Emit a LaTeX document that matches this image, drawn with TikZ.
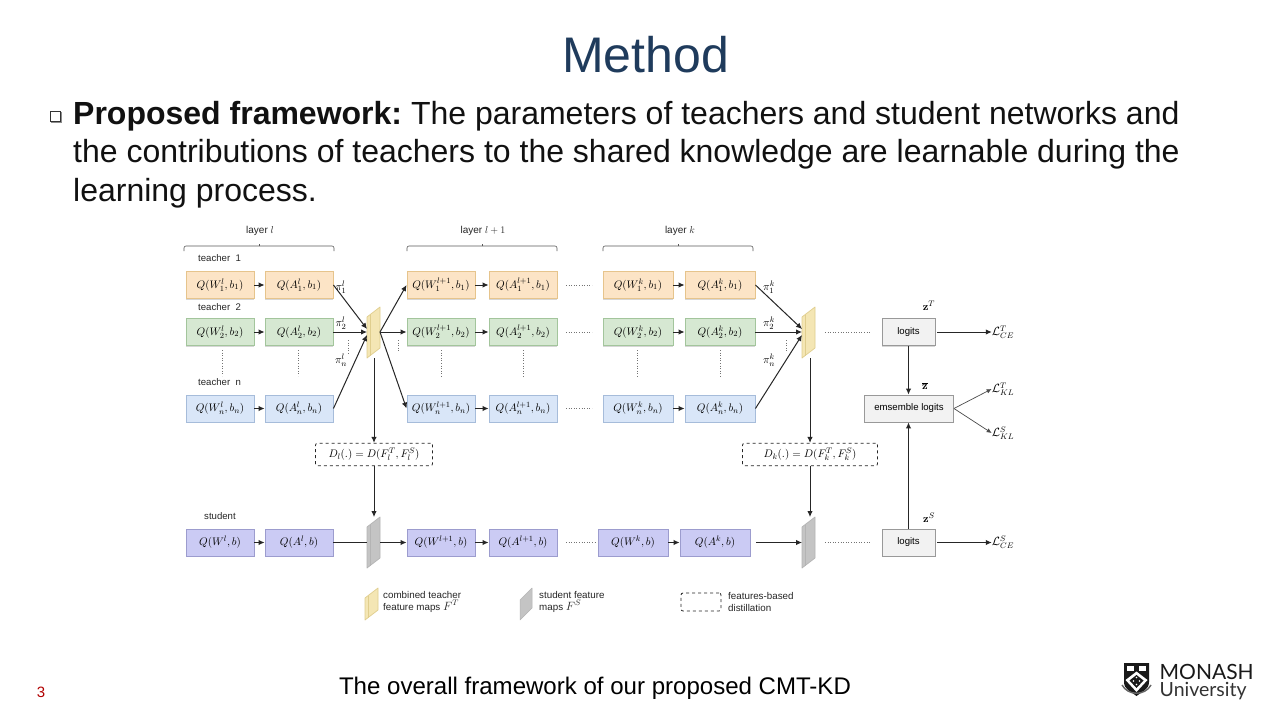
\documentclass[tikz,border=0pt]{standalone}
\usepackage[no-math]{fontspec}
\usepackage{amsmath}
\setmainfont{Liberation Sans}
\newfontfamily\logofont{Lato}
\usetikzlibrary{shadows,arrows.meta}
\definecolor{titlec}{HTML}{1F3B5C}
\definecolor{bodyc}{HTML}{111111}
\definecolor{ofill}{HTML}{FCE4C6}\definecolor{oline}{HTML}{E6C48C}
\definecolor{gfill}{HTML}{D6E8D2}\definecolor{gline}{HTML}{A3C59C}
\definecolor{bfill}{HTML}{D9E6F8}\definecolor{bline}{HTML}{A6BCDA}
\definecolor{vfill}{HTML}{CBCBF4}\definecolor{vline}{HTML}{9C9CCE}
\tikzset{
  qbox/.style={minimum height=27pt,inner sep=0pt,line width=.9pt,
    drop shadow={shadow xshift=.3pt,shadow yshift=-1.1pt,fill=black!40,opacity=.4},
    font=\fontsize{11}{12}\selectfont},
  orangeb/.style={qbox,fill=ofill,draw=oline,minimum width=68pt},
  greenb/.style={qbox,fill=gfill,draw=gline,minimum width=68pt},
  blueb/.style={qbox,fill=bfill,draw=bline,minimum width=68pt},
  violetb/.style={qbox,fill=vfill,draw=vline,minimum width=68pt},
  grayb/.style={qbox,fill=black!5,draw=black!40,font=\fontsize{9.6}{11}\selectfont},
  distb/.style={draw=black!85,dashed,rounded corners=2pt,inner sep=0pt,line width=.8pt,minimum height=22.5pt,font=\fontsize{11}{12}\selectfont},
  conn/.style={draw=black!85,line width=1pt,-{Latex[length=6pt,width=5.5pt]}},
  plainconn/.style={draw=black!85,line width=1pt},
  thinconn/.style={draw=black!70,line width=.7pt,-{Latex[length=5pt,width=4.5pt]}},
  dots/.style={draw=black!55,line width=.7pt,dash pattern=on 1pt off 1.6pt},
  lab/.style={font=\fontsize{9.6}{11}\selectfont,text=black!85,inner sep=0pt},
  leg/.style={font=\fontsize{9.8}{12}\selectfont,text=black!85,inner sep=0pt,align=left,anchor=west},
  brk/.style={draw=black!65,line width=.6pt,rounded corners=2pt},
  body/.style={font=\fontsize{32}{38.6}\selectfont,text=bodyc,inner sep=0pt,anchor=west},
  mlab/.style={inner sep=0pt,font=\fontsize{11}{12}\selectfont},
  llab/.style={inner sep=0pt,font=\fontsize{11.5}{12}\selectfont},
}
\newcommand{\fmapdraw}[5]{% x, y top, fill, line, height
  \draw[fill=#3,draw=#4,line width=.7pt,line join=round]
    (#1,#2+10) -- (#1+13,#2) -- (#1+13,#2+#5-10) -- (#1,#2+#5) -- cycle;
  \draw[draw=#4,line width=.6pt] (#1+3,#2+8) -- (#1+3,#2+#5-2);
}
\begin{document}
\begin{tikzpicture}[x=1pt,y=-1pt]
\useasboundingbox (0,0) rectangle (1280,720);
\fill[white] (0,0) rectangle (1280,720);
\definecolor{fmy}{HTML}{F4E6B4}\definecolor{fmyl}{HTML}{E0CE8E}
\definecolor{fmg}{HTML}{C4C4C4}\definecolor{fmgl}{HTML}{B4B4B4}

% title and text
\node[font=\fontsize{50}{50}\selectfont,text=titlec,inner sep=0pt] (title) at (645.5,55) {Method};
\draw[black!80,line width=.8pt,fill=white] (50,111) rectangle (60,121);
\draw[black!45,line width=1pt] (61,112) -- (61,122) -- (51,122);
\node[body] (l1) at (73,116) {\textbf{Proposed framework:}\hspace{-3pt} The parameters of teachers and student networks and};
\node[body] (l2) at (73,154) {the contributions of teachers to the shared knowledge are learnable during the};
\node[body] (l3) at (73,193) {learning process.};

% layer brackets
\foreach \a/\b/\m in {184/334/259,407/557/482,603/753/678}{
  \draw[brk] (\a,251) -- (\a,246) -- (\b,246) -- (\b,251);
  \draw[draw=black!65,line width=.6pt] (\m,246) -- (\m,243.5);
}
\node[lab,font=\fontsize{10}{11}\selectfont] (ll1) at (260,231) {layer $l$};
\node[lab,font=\fontsize{10}{11}\selectfont] (ll2) at (483,231) {layer $l+1$};
\node[lab,font=\fontsize{10}{11}\selectfont] (ll3) at (680,231) {layer $k$};

\node[lab,anchor=west] (t1) at (198,258) {teacher\ \ 1};
\node[lab,anchor=west] (t2) at (198,307) {teacher\ \ 2};
\node[lab,anchor=west] (tn) at (198,382) {teacher\ \ n};
\node[lab,anchor=west] (st) at (204,516) {student};

% feature maps
\fmapdraw{367}{307}{fmy}{fmyl}{51}
\fmapdraw{802}{307}{fmy}{fmyl}{51}
\fmapdraw{367}{517}{fmg}{fmgl}{51}
\fmapdraw{802}{517}{fmg}{fmgl}{51}
\coordinate (fl1) at (367,329); \coordinate (fl2) at (367,332); \coordinate (fl3) at (367,335);
\coordinate (flo) at (380,332); \coordinate (flb) at (374,358);
\coordinate (fk1) at (802,329); \coordinate (fk2) at (802,332); \coordinate (fk3) at (802,335);
\coordinate (fkb) at (810,358);
\coordinate (gl) at (367,542.5); \coordinate (glo) at (380,542.5); \coordinate (glt) at (374,517);
\coordinate (gk) at (802,542.5); \coordinate (gkt) at (810,517);

% teacher boxes
\node[orangeb] (w11) at (220,285) {$Q(W_1^l,b_1)$};
\node[orangeb] (a11) at (299,285) {$Q(A_1^l,b_1)$};
\node[orangeb] (w12) at (441,285) {$Q(W_1^{l+1},b_1)$};
\node[orangeb] (a12) at (523,285) {$Q(A_1^{l+1},b_1)$};
\node[orangeb,minimum width=70pt] (w13) at (638,285) {$Q(W_1^{k},b_1)$};
\node[orangeb,minimum width=70pt] (a13) at (720,285) {$Q(A_1^{k},b_1)$};
\node[greenb] (w21) at (220,332) {$Q(W_2^l,b_2)$};
\node[greenb] (a21) at (299,332) {$Q(A_2^l,b_2)$};
\node[greenb] (w22) at (441,332) {$Q(W_2^{l+1},b_2)$};
\node[greenb] (a22) at (523,332) {$Q(A_2^{l+1},b_2)$};
\node[greenb,minimum width=70pt] (w23) at (638,332) {$Q(W_2^{k},b_2)$};
\node[greenb,minimum width=70pt] (a23) at (720,332) {$Q(A_2^{k},b_2)$};
\node[blueb] (w31) at (220,408.5) {$Q(W_n^l,b_n)$};
\node[blueb] (a31) at (299,408.5) {$Q(A_n^l,b_n)$};
\node[blueb] (w32) at (441,408.5) {$Q(W_n^{l+1},b_n)$};
\node[blueb] (a32) at (523,408.5) {$Q(A_n^{l+1},b_n)$};
\node[blueb,minimum width=70pt] (w33) at (638,408.5) {$Q(W_n^{k},b_n)$};
\node[blueb,minimum width=70pt] (a33) at (720,408.5) {$Q(A_n^{k},b_n)$};
% student boxes
\node[violetb] (sw1) at (220,542.5) {$Q(W^l,b)$};
\node[violetb] (sa1) at (299,542.5) {$Q(A^l,b)$};
\node[violetb] (sw2) at (441,542.5) {$Q(W^{l+1},b)$};
\node[violetb] (sa2) at (523,542.5) {$Q(A^{l+1},b)$};
\node[violetb,minimum width=70pt] (sw3) at (633,542.5) {$Q(W^{k},b)$};
\node[violetb,minimum width=70pt] (sa3) at (715,542.5) {$Q(A^{k},b)$};
% logits
\node[grayb,minimum width=53pt] (logT) at (908.5,332) {logits};
\node[grayb,minimum width=89pt] (ens) at (909,408.5) {emsemble logits};
\node[grayb,minimum width=53pt] (logS) at (908.5,542.5) {logits};
% distillation
\node[distb,minimum width=117pt] (dl) at (374,454.5) {$D_l(.)=D(F_l^T,F_l^S)$};
\node[distb,minimum width=135pt] (dk) at (810,454.5) {$D_k(.)=D(F_k^T,F_k^S)$};

% inner arrows
\foreach \r in {1,2,3}{
  \draw[conn] (w\r1) -- (a\r1);
  \draw[conn] (w\r2) -- (a\r2);
  \draw[conn] (w\r3) -- (a\r3);
}
\draw[conn] (sw1) -- (sa1);
\draw[conn] (sw2) -- (sa2);
\draw[conn] (sw3) -- (sa3);
% to and from maps
\draw[conn] (a11.east) -- (fl1);
\draw[conn] (a21.east) -- (fl2);
\draw[conn] (a31.east) -- (fl3);
\draw[conn] (flo) -- (w12.west);
\draw[conn] (flo) -- (w22.west);
\draw[conn] (flo) -- (w32.west);
\draw[conn] (a13.east) -- (fk1);
\draw[conn] (a23.east) -- (fk2);
\draw[conn] (a33.east) -- (fk3);
\draw[conn] (flb) -- (dl.north);
\draw[conn] (dl.south) -- (glt);
\draw[conn] (fkb) -- (dk.north);
\draw[conn] (dk.south) -- (gkt);
\draw[plainconn] (sa1.east) -- (gl);
\draw[conn] (glo) -- (sw2.west);
\draw[conn] ([xshift=6pt]sa3.east) -- (gk);
% logits arrows
\node[llab] (lce) at (1003,332) {$\mathcal{L}_{CE}^{T}$};
\node[llab] (lkt) at (1003,389) {$\mathcal{L}_{KL}^{T}$};
\node[llab] (lks) at (1003,433) {$\mathcal{L}_{KL}^{S}$};
\node[llab] (lcs) at (1003,542.5) {$\mathcal{L}_{CE}^{S}$};
\draw[conn] ([xshift=2pt]logT.east) -- (lce.west);
\draw[conn] ([xshift=2pt]logS.east) -- (lcs.west);
\draw[conn] (logT.south) -- (logT.south |- ens.north);
\draw[conn] (logS.north) -- (logS.north |- ens.south);
\draw[thinconn] (ens.east) -- (lkt.west);
\draw[thinconn] (ens.east) -- (lks.west);
% math labels
\foreach \nm/\x/\y/\t in {pa/341/287/{\pi_1^l},pb/341/323/{\pi_2^l},pc/341/360/{\pi_n^l},pd/769/287/{\pi_1^k},pe/769/323/{\pi_2^k},pf/769/360/{\pi_n^k}}{
  \node[mlab] (\nm) at (\x,\y) {$\t$};
}
\node[mlab] (zt) at (929,306) {$\mathbf{z}^T$};
\node[mlab] (zb) at (925,386) {$\overline{\mathbf{z}}$};
\node[mlab] (zs) at (929,518) {$\mathbf{z}^S$};
% dotted
\foreach \a/\b/\y in {566/592/285,566/592/332,566/592/408.5,566/596/542.5,825/870/332,825/870/542.5}{
  \draw[dots] (\a,\y) -- (\b,\y);
}
\foreach \x/\a/\b in {222/350/376,298/350/376,441/350/377,523/350/377,637/350/377,720/350/377,398/340/352,348/340/355,786/340/352}{
  \draw[dots] (\x,\a) -- (\x,\b);
}
% legend
\fmapdraw{365}{588}{fmy}{fmyl}{32}
\node[leg] (lg1) at (383,601.5) {combined teacher\\feature maps {\fontsize{12}{12}\selectfont$F^T$}};
\fill[fmg,draw=fmgl,line width=.5pt,line join=round] (520,600) -- (532,588) -- (532,608) -- (520,620) -- cycle;
\node[leg] (lg2) at (539,601.5) {student feature\\maps {\fontsize{12}{12}\selectfont$F^S$}};
\node[distb,minimum width=40pt,minimum height=18pt] (lg3box) at (701,602) {};
\node[leg] (lg3) at (728,601.5) {features-based\\distillation};

% footer
\node[font=\fontsize{15}{15}\selectfont,text=red!70!black,inner sep=0pt] (pg) at (41,692) {3};
\node[font=\fontsize{24.05}{25}\selectfont,text=black,inner sep=0pt] (cap) at (595,688) {The overall framework of our proposed CMT-KD};

% logo
\fill[black!90] (1124,663) -- (1149,663) -- (1149,682) .. controls (1149,690) and (1141,692) .. (1136.5,696) .. controls (1132,692) and (1124,690) .. (1124,682) -- cycle;
\fill[white] (1127,666) rectangle (1134,670.5);
\fill[white] (1139,666) rectangle (1146,670.5);
\fill[white] (1136.5,671.5) -- (1147.5,680) -- (1136.5,692) -- (1125.5,680) -- cycle;
\fill[black!90] (1136.5,675) -- (1143.5,680.5) -- (1136.5,688) -- (1129.5,680.5) -- cycle;
\foreach \x/\y in {1136.5/677.5,1133.5/681,1139.5/681,1136.5/684.5}{\fill[white] (\x,\y) circle (.8);}
\draw[black!60,line width=1.4pt] (1122,685) .. controls (1128,696) and (1145,696) .. (1151,685);
\node[font=\fontsize{21}{21}\selectfont\logofont,text=black!90,inner sep=0pt,anchor=west] (m1) at (1159.5,672) {MONASH};
\node[font=\fontsize{19.5}{20}\selectfont\logofont,text=black!80,inner sep=0pt,anchor=west] (m2) at (1159.5,691.5) {University};
\end{tikzpicture}
\end{document}
